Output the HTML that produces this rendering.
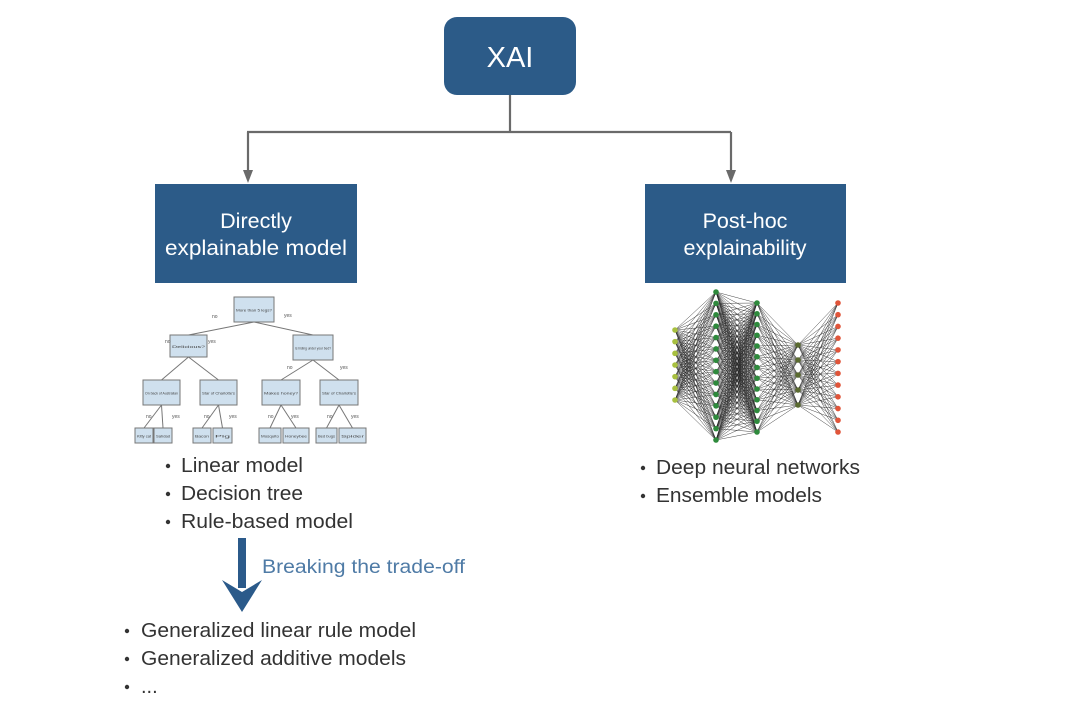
<!DOCTYPE html>
<html><head><meta charset="utf-8"><style>
html,body{margin:0;padding:0;background:#fff;}
svg{display:block;}
text{font-family:"Liberation Sans",sans-serif;}
</style></head><body>
<svg id="s" width="1070" height="706" viewBox="0 0 1070 706" xmlns="http://www.w3.org/2000/svg">
<!-- XAI -->
<rect x="444" y="17" width="132" height="78" rx="13" fill="#2c5b88"/>
<text x="510" y="67" font-size="29" fill="#fff" text-anchor="middle">XAI</text>
<!-- connectors -->
<g stroke="#6a6a6a" stroke-width="2.2" fill="none">
<line x1="510" y1="95" x2="510" y2="132"/>
<line x1="247" y1="132" x2="731" y2="132"/>
<line x1="248" y1="132" x2="248" y2="172"/>
<line x1="731" y1="132" x2="731" y2="172"/>
</g>
<path d="M243,170 L253,170 L248,183 Z" fill="#6a6a6a"/>
<path d="M726,170 L736,170 L731,183 Z" fill="#6a6a6a"/>
<!-- level boxes -->
<rect x="155" y="184" width="202" height="99" fill="#2c5b88"/>
<text x="256" y="228" font-size="21.5" fill="#fff" text-anchor="middle">Directly</text>
<text x="256" y="255" font-size="21.5" fill="#fff" text-anchor="middle" textLength="182" lengthAdjust="spacingAndGlyphs">explainable model</text>
<rect x="645" y="184" width="201" height="99" fill="#2c5b88"/>
<text x="745" y="228" font-size="21.5" fill="#fff" text-anchor="middle">Post-hoc</text>
<text x="745" y="255" font-size="21.5" fill="#fff" text-anchor="middle">explainability</text>
<!-- decision tree -->
<g id="tree" stroke="#777" stroke-width="1" fill="#cfe0ee"></g>
<!-- nn -->
<g id="nn"></g>
<!-- lists -->
<g fill="#333" font-size="20">
<circle cx="168" cy="466" r="2.2" /><text x="181" y="472" textLength="122" lengthAdjust="spacingAndGlyphs">Linear model</text>
<circle cx="168" cy="494" r="2.2" /><text x="181" y="500" textLength="122" lengthAdjust="spacingAndGlyphs">Decision tree</text>
<circle cx="168" cy="522" r="2.2" /><text x="181" y="528" textLength="172" lengthAdjust="spacingAndGlyphs">Rule-based model</text>
<circle cx="127" cy="631" r="2.2" /><text x="141" y="637" textLength="275" lengthAdjust="spacingAndGlyphs">Generalized linear rule model</text>
<circle cx="127" cy="659" r="2.2" /><text x="141" y="665" textLength="265" lengthAdjust="spacingAndGlyphs">Generalized additive models</text>
<circle cx="127" cy="687" r="2.2" /><text x="141" y="693">...</text>
<circle cx="643" cy="468" r="2.2" /><text x="656" y="474" textLength="204" lengthAdjust="spacingAndGlyphs">Deep neural networks</text>
<circle cx="643" cy="496" r="2.2" /><text x="656" y="502" textLength="166" lengthAdjust="spacingAndGlyphs">Ensemble models</text>
</g>
<!-- big arrow -->
<rect x="238" y="538" width="8" height="50" fill="#2b5a8a"/>
<path d="M222,580 L242,592 L262,580 L242,612 Z" fill="#2b5a8a"/>
<text x="262" y="573" font-size="19" fill="#4f7ba6" textLength="203" lengthAdjust="spacingAndGlyphs">Breaking the trade-off</text>
</svg>
<script>
var NS="http://www.w3.org/2000/svg";
function el(p,t,a,txt){var e=document.createElementNS(NS,t);for(var k in a)e.setAttribute(k,a[k]);if(txt)e.textContent=txt;p.appendChild(e);return e;}
var tr=document.getElementById('tree');
var boxes=[[234,297,40,25],[170,335,37,22],[293,335,40,25],[143,380,37,25],[200,380,37,25],[262,380,38,25],[320,380,38,25],
[135,428,18,15],[154,428,18,15],[193,428,18,15],[213,428,19,15],[259,428,22,15],[283,428,26,15],[316,428,21,15],[339,428,27,15]];
var edges=[[0,1],[0,2],[1,3],[1,4],[2,5],[2,6],[3,7],[3,8],[4,9],[4,10],[5,11],[5,12],[6,13],[6,14]];
edges.forEach(function(e){var a=boxes[e[0]],b=boxes[e[1]];el(tr,'line',{x1:a[0]+a[2]/2,y1:a[1]+a[3],x2:b[0]+b[2]/2,y2:b[1],stroke:'#777'});});
boxes.forEach(function(b){el(tr,'rect',{x:b[0],y:b[1],width:b[2],height:b[3]});});
var lbl=[[212,318,'no'],[284,317,'yes'],[165,343,'no'],[208,343,'yes'],[287,369,'no'],[340,369,'yes'],[146,418,'no'],[172,418,'yes'],[204,418,'no'],[229,418,'yes'],[268,418,'no'],[291,418,'yes'],[327,418,'no'],[351,418,'yes']];
lbl.forEach(function(l){el(tr,'text',{x:l[0],y:l[1],'font-size':'5',fill:'#555',stroke:'none'},l[2]);});
var bt=['More than 5 legs?','Delicious?','Is hiding under your bed?','On back of Australian','Star of Charlotte\'s','Makes honey?','Star of Charlotte\'s','Kitty cat','Sahdad','Bacon','Pig','Mosquito','Honeybee','Bed bugs','Spider'];
boxes.forEach(function(b,i){el(tr,'text',{x:b[0]+b[2]/2,y:b[1]+b[3]/2+2,'font-size':'4','fill':'#444',stroke:'none','text-anchor':'middle','textLength':b[2]-4,'lengthAdjust':'spacingAndGlyphs'},bt[i]);});
var nn=document.getElementById('nn');
var layers=[[675,330,400,7,'#a8c040'],[716,292,440,14,'#2e8a3c'],[757,303,432,13,'#2e8a3c'],[798,345,405,5,'#5a6a30'],[838,303,432,12,'#e0553a']];
var pts=layers.map(function(L){var a=[];for(var i=0;i<L[3];i++)a.push([L[0],L[1]+(L[2]-L[1])*i/(L[3]-1)]);return a;});
for(var l=0;l<4;l++){pts[l].forEach(function(p){pts[l+1].forEach(function(q){el(nn,'line',{x1:p[0],y1:p[1],x2:q[0],y2:q[1],stroke:'#222','stroke-width':'0.5','stroke-opacity':'0.85'});});});}
pts.forEach(function(a,l){a.forEach(function(p){el(nn,'circle',{cx:p[0],cy:p[1],r:2.8,fill:layers[l][4]});});});
</script>
</body></html>
